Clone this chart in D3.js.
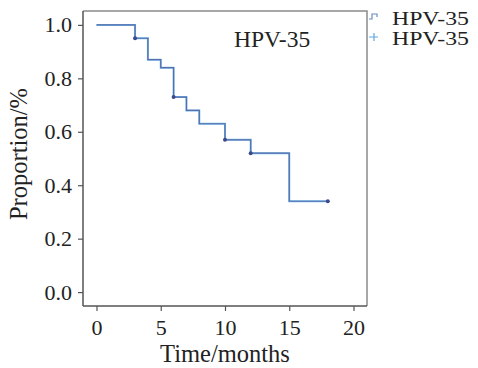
<!DOCTYPE html>
<html><head><meta charset="utf-8">
<script src="https://cdn.jsdelivr.net/npm/d3@7"></script>
<style>body{margin:0;background:#fff}svg{display:block}text{font-family:"Liberation Serif","Times New Roman",serif;fill:#222}</style>
</head><body><svg id="c" width="478" height="368"></svg>
<script>
const times = [0, 3, 4, 5, 6, 7, 8, 10, 12, 15, 18];
const survival = [1.0, 0.95, 0.87, 0.84, 0.73, 0.68, 0.63, 0.57, 0.52, 0.34, 0.34];
const censorTimes = [3, 6, 10, 12, 18];
const censorValues = [0.95, 0.73, 0.57, 0.52, 0.34];
const xTicks = [0, 5, 10, 15, 20];
const yTicks = [0.0, 0.2, 0.4, 0.6, 0.8, 1.0];
const legendLabels = ["HPV-35", "HPV-35"];
const innerLabel = "HPV-35";

const svg = d3.select("#c");
const L = 83, R = 367, T = 11, B = 306;
const x = d3.scaleLinear().domain([-1.05, 21.05]).range([L, R]);
const y = d3.scaleLinear().domain([-0.052, 1.052]).range([B, T]);

svg.append("path").attr("d", `M${L},${T}H${R}V${B}`).attr("fill","none").attr("stroke","#8a8a8a").attr("stroke-width",1.5);
const xa = svg.append("g").attr("transform", `translate(0,${B})`)
  .call(d3.axisBottom(x).tickValues(xTicks).tickSize(5).tickPadding(8).tickFormat(d3.format("d")));
const ya = svg.append("g").attr("transform", `translate(${L},0)`)
  .call(d3.axisLeft(y).tickValues(yTicks).tickSize(5).tickPadding(6).tickFormat(d3.format(".1f")));
[xa, ya].forEach(a => {
  a.select(".domain").attr("stroke","#555").attr("stroke-width",1.5);
  a.selectAll(".tick line").attr("stroke","#555").attr("stroke-width",1.2);
  a.selectAll(".tick text").attr("font-size",22).attr("fill","#222").style("font-family","Liberation Serif");
});
xa.select(".domain").attr("d", `M${L},0H${R}`);
ya.select(".domain").attr("d", `M0,${T}V${B}`);

const data = times.map((t,i)=>({t, s: survival[i]}));
const line = d3.line().x(d=>x(d.t)).y(d=>y(d.s)).curve(d3.curveStepAfter);
svg.append("path").datum(data).attr("d", line).attr("fill","none").attr("stroke","#6ab8ec").attr("stroke-width",2);
svg.append("path").datum(data).attr("d", line).attr("fill","none").attr("stroke","#5a5a98").attr("stroke-width",1.2).attr("opacity",0.8);

svg.selectAll(".cen").data(censorTimes).enter().append("circle")
  .attr("cx", d=>x(d)).attr("cy",(d,i)=>y(censorValues[i])).attr("r",2).attr("fill","#3a4a8a");

svg.append("text").attr("x", 234).attr("y", 47).attr("font-size", 23.5).text(innerLabel);

const lg = svg.append("g");
lg.append("path").attr("d","M369,19H372V14H377V17").attr("fill","none").attr("stroke","#6a8ac8").attr("stroke-width",1.2);
lg.append("path").attr("d","M369,37H378M374,33V41").attr("fill","none").attr("stroke","#62a8e0").attr("stroke-width",1.2);
legendLabels.forEach((l,i)=>{
  lg.append("text").attr("x",392).attr("y",24.5+i*20.5).attr("font-size",19).attr("textLength",77).attr("lengthAdjust","spacingAndGlyphs").text(l);
});

svg.append("text").attr("x", 225).attr("y", 362).attr("text-anchor","middle").attr("font-size",24.5).text("Time/months");
svg.append("text").attr("transform","translate(27,154) rotate(-90)").attr("text-anchor","middle").attr("font-size",24.5).text("Proportion/%");
</script></body></html>
